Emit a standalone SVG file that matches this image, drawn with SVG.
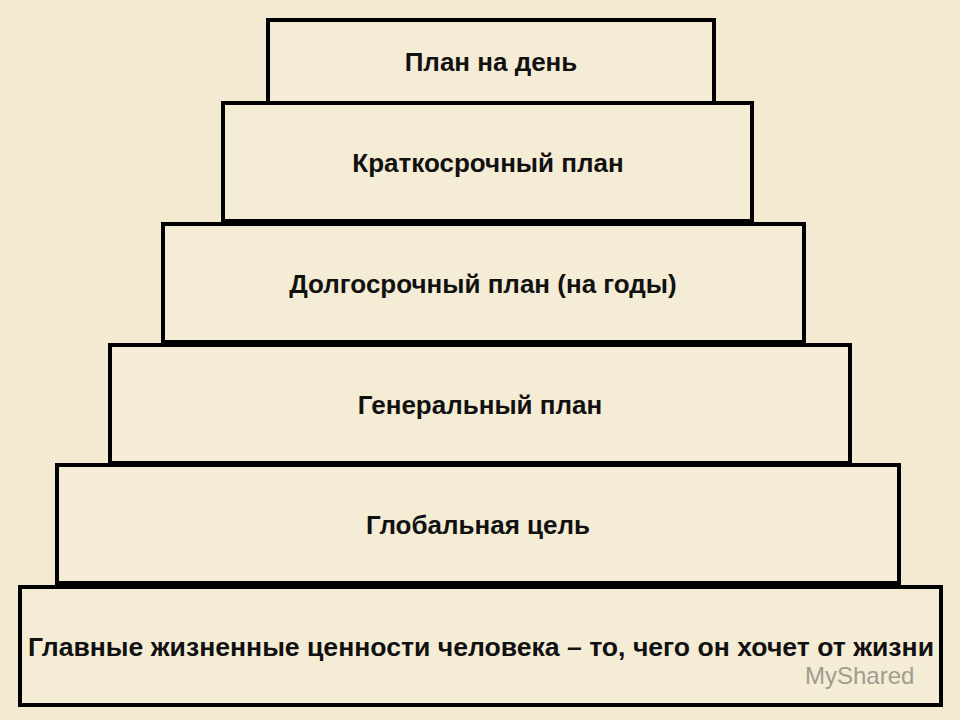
<svg xmlns="http://www.w3.org/2000/svg" width="960" height="720" viewBox="0 0 960 720">
<style>
.b{fill:#f5ecd5;stroke:#000;stroke-width:4}
.t{font-family:"Liberation Sans",Arial,sans-serif;font-weight:bold;font-size:26px;fill:#111;text-anchor:middle}
.w{font-family:"Liberation Sans",Arial,sans-serif;font-size:24px;fill:#8a8a80;opacity:0.8}
</style>
<rect width="960" height="720" fill="#f4ead2"/>
<g id="n1"><rect class="b" x="268" y="20" width="446" height="84"/><text class="t" x="491" y="71">План на день</text></g>
<g id="n2"><rect class="b" x="223" y="103" width="529" height="118"/><text class="t" x="488" y="172">Краткосрочный план</text></g>
<g id="n3"><rect class="b" x="163" y="224" width="641" height="118"/><text class="t" x="483" y="293">Долгосрочный план (на годы)</text></g>
<g id="n4"><rect class="b" x="110" y="345" width="740" height="118"/><text class="t" x="480" y="414">Генеральный план</text></g>
<g id="n5"><rect class="b" x="57" y="465" width="842" height="118"/><text class="t" x="478" y="534">Глобальная цель</text></g>
<g id="n6"><rect class="b" x="20" y="587" width="921" height="118"/><text class="t" x="481" y="656" textLength="906" lengthAdjust="spacingAndGlyphs">Главные жизненные ценности человека – то, чего он хочет от жизни</text></g>
<g id="connectors"/>
<text class="w" x="805" y="684">MyShared</text>
</svg>
